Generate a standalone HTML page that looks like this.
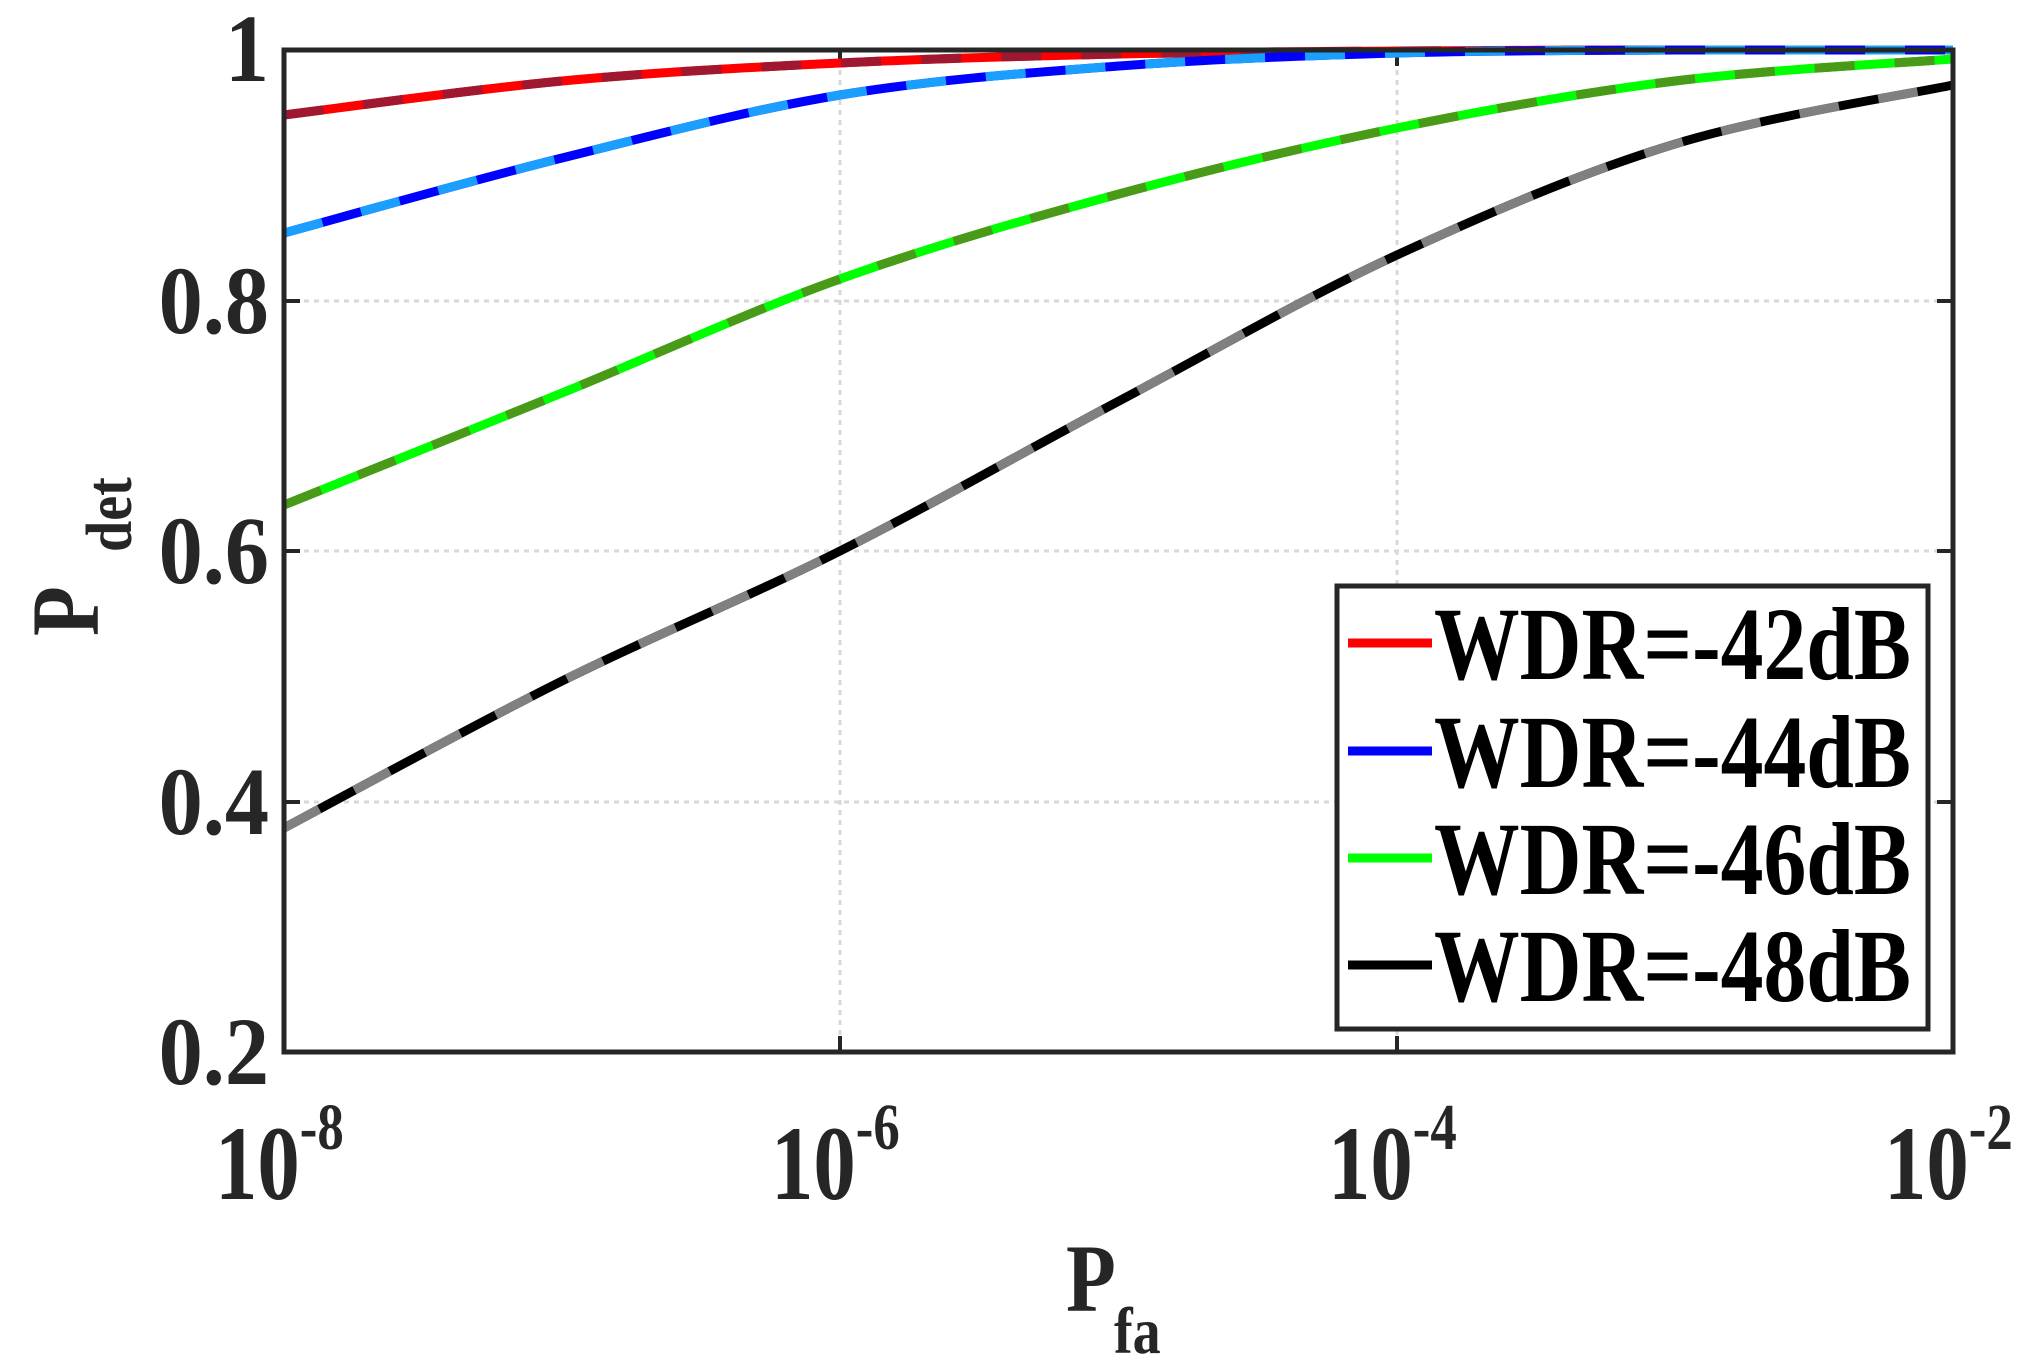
<!DOCTYPE html>
<html><head><meta charset="utf-8"><style>html,body{margin:0;padding:0;background:#fff}svg{display:block}</style></head>
<body>
<svg width="2034" height="1371" viewBox="0 0 2034 1371" xmlns="http://www.w3.org/2000/svg" font-family="'Liberation Serif', serif" font-weight="bold" fill="#262626">
<defs>
<path id="cr" d="M284,115 C330.4,109.3 469.3,89.7 562,81 C654.7,72.3 747.3,67.5 840,63 C932.7,58.5 1026.3,56 1119,54 C1211.7,52 1304.3,51.7 1397,51 C1489.7,50.3 1582.3,50.2 1675,50 L1953,50"/>
<path id="cb" d="M284,233 C330.4,220.5 469.3,181 562,158 C654.7,135 747.3,110.3 840,95 C932.7,79.7 1026.3,73 1119,66 C1211.7,59 1304.3,55.7 1397,53 C1489.7,50.3 1582.3,50.5 1675,50 L1953,50"/>
<path id="cg" d="M284,505 C330.4,486.3 469.3,430.7 562,393 C654.7,355.3 747.3,312.2 840,279 C932.7,245.8 1026.3,219.2 1119,194 C1211.7,168.8 1304.3,146.8 1397,128 C1489.7,109.2 1582.3,92.5 1675,81 C1767.7,69.5 1906.6,62.7 1953,59"/>
<path id="ck" d="M284,828 C330.4,803.5 469.3,727.2 562,681 C654.7,634.8 747.3,597.7 840,551 C932.7,504.3 1026.3,450.3 1119,401 C1211.7,351.7 1304.3,297.8 1397,255 C1489.7,212.2 1582.3,172.3 1675,144 C1767.7,115.7 1906.6,94.8 1953,85"/>
</defs>
<rect width="2034" height="1371" fill="#fff"/>
<g stroke="#d8d8d8" stroke-width="3" stroke-dasharray="5 5">
<line x1="840" y1="50" x2="840" y2="1052"/>
<line x1="1397" y1="50" x2="1397" y2="1052"/>
<line x1="284" y1="301" x2="1953" y2="301"/>
<line x1="284" y1="551" x2="1953" y2="551"/>
<line x1="284" y1="802" x2="1953" y2="802"/>
</g>
<g stroke="#262626" stroke-width="4">
<line x1="840" y1="1052" x2="840" y2="1036"/><line x1="1397" y1="1052" x2="1397" y2="1036"/>
<line x1="840" y1="50" x2="840" y2="66"/><line x1="1397" y1="50" x2="1397" y2="66"/>
<line x1="284" y1="301" x2="300" y2="301"/><line x1="284" y1="551" x2="300" y2="551"/><line x1="284" y1="802" x2="300" y2="802"/>
<line x1="1953" y1="301" x2="1937" y2="301"/><line x1="1953" y1="551" x2="1937" y2="551"/><line x1="1953" y1="802" x2="1937" y2="802"/>
</g>
<g fill="none" stroke-width="9" stroke-linejoin="round">
<use href="#cr" stroke="#ff0000"/><use href="#cr" stroke="#a01830" stroke-dasharray="40 40"/>
<use href="#cb" stroke="#0000ff"/><use href="#cb" stroke="#1a9fff" stroke-dasharray="40 40"/>
<use href="#cg" stroke="#00ff00"/><use href="#cg" stroke="#4a9a1a" stroke-dasharray="40 40"/>
<use href="#ck" stroke="#000000"/><use href="#ck" stroke="#808080" stroke-dasharray="40 40"/>
</g>
<rect x="284" y="50" width="1669" height="1002" fill="none" stroke="#262626" stroke-width="5"/>
<g font-size="96" text-anchor="end">
<text x="269" y="81" transform="translate(269,0) scale(0.92,1) translate(-269,0)">1</text>
<text x="269" y="333" transform="translate(269,0) scale(0.92,1) translate(-269,0)">0.8</text>
<text x="269" y="583" transform="translate(269,0) scale(0.92,1) translate(-269,0)">0.6</text>
<text x="269" y="834" transform="translate(269,0) scale(0.92,1) translate(-269,0)">0.4</text>
<text x="269" y="1084" transform="translate(269,0) scale(0.92,1) translate(-269,0)">0.2</text>
</g>
<g font-size="106">
<g transform="translate(215,1199) scale(0.8,1)"><text x="0" y="0">10<tspan font-size="66" dy="-50">-8</tspan></text></g>
<g transform="translate(771,1199) scale(0.8,1)"><text x="0" y="0">10<tspan font-size="66" dy="-50">-6</tspan></text></g>
<g transform="translate(1328,1199) scale(0.8,1)"><text x="0" y="0">10<tspan font-size="66" dy="-50">-4</tspan></text></g>
<g transform="translate(1884,1199) scale(0.8,1)"><text x="0" y="0">10<tspan font-size="66" dy="-50">-2</tspan></text></g>
</g>
<g transform="translate(1066,1311) scale(0.85,1)"><text x="0" y="0" font-size="96">P</text></g>
<g transform="translate(1114,1353) scale(0.85,1)"><text x="0" y="0" font-size="66">fa</text></g>
<g transform="translate(98,636) rotate(-90) scale(0.85,1)"><text x="0" y="0" font-size="96">P</text></g>
<g transform="translate(131,552) rotate(-90) scale(0.85,1)"><text x="0" y="0" font-size="66">det</text></g>
<rect x="1337" y="586" width="591" height="443" fill="#fff" stroke="#262626" stroke-width="5"/>
<g stroke-width="9">
<line x1="1348" y1="643" x2="1432" y2="643" stroke="#ff0000"/>
<line x1="1348" y1="751" x2="1432" y2="751" stroke="#0000ff"/>
<line x1="1348" y1="858" x2="1432" y2="858" stroke="#00ff00"/>
<line x1="1348" y1="965" x2="1432" y2="965" stroke="#000000"/>
</g>
<g font-size="104" fill="#000">
<text x="1434" y="679" textLength="477" lengthAdjust="spacingAndGlyphs">WDR=-42dB</text>
<text x="1434" y="787" textLength="477" lengthAdjust="spacingAndGlyphs">WDR=-44dB</text>
<text x="1434" y="894" textLength="477" lengthAdjust="spacingAndGlyphs">WDR=-46dB</text>
<text x="1434" y="1001" textLength="477" lengthAdjust="spacingAndGlyphs">WDR=-48dB</text>
</g>
</svg>
</body></html>
